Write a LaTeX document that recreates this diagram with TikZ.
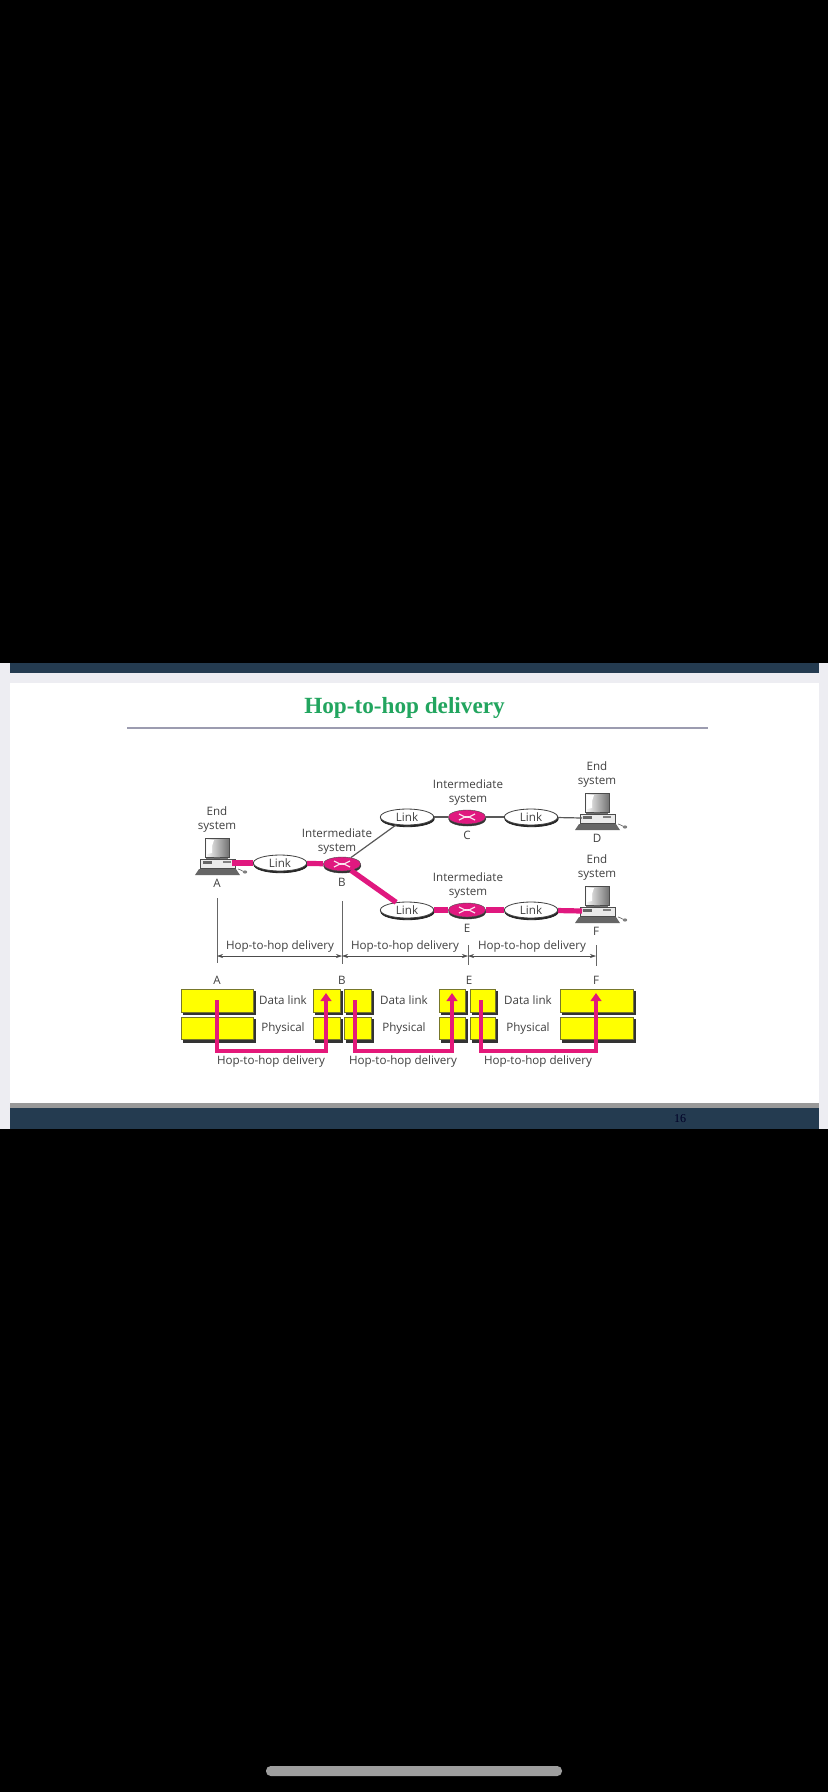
\documentclass[tikz,border=0pt]{standalone}
\usepackage{fontspec}
\setmainfont{Open Sans}
\newfontfamily\titlefont{Liberation Serif}
\usetikzlibrary{shapes.geometric,shadows,arrows.meta,calc}
\definecolor{bandblue}{HTML}{243B50}
\definecolor{slidegray}{HTML}{EDEDF2}
\definecolor{rulegray}{HTML}{9C9CB0}
\definecolor{titlegreen}{HTML}{22A55F}
\definecolor{hotpink}{HTML}{E0187F}
\definecolor{routepink}{HTML}{E4197A}
\definecolor{txt}{HTML}{404040}
\definecolor{boxyellow}{HTML}{FFFF00}
\definecolor{boxedge}{HTML}{77772A}
\tikzset{
  lbl/.style={font=\fontsize{8.7}{10.5}\selectfont,text=txt,inner sep=0pt,align=center},
  linkell/.style={ellipse,draw=black!75,line width=.6pt,fill=white,minimum width=40pt,minimum height=12pt,inner sep=0pt,
    font=\fontsize{8.7}{10.5}\selectfont,text=txt,copy shadow={shadow xshift=.4pt,shadow yshift=-1.3pt,fill=black!85,draw=black!85}},
  routerell/.style={ellipse,draw=black!70,line width=.3pt,fill=hotpink,minimum width=28pt,minimum height=10.5pt,inner sep=0pt,
    copy shadow={shadow xshift=.2pt,shadow yshift=-1.5pt,fill=black!80,draw=black!80}},
  thinlink/.style={draw=black!65,line width=.9pt},
  thicklink/.style={draw=hotpink,line width=3.9pt},
  ybox/.style={rectangle,draw=boxedge,line width=.6pt,fill=boxyellow,inner sep=0pt,anchor=north west,
    copy shadow={shadow xshift=1.6pt,shadow yshift=-1.6pt,fill=black!80,draw=black!80}},
  route/.style={draw=routepink,line width=2.5pt,line join=miter},
  routearrow/.style={route,-{Triangle[length=6pt,width=8pt]}},
  vline/.style={draw=black!60,line width=.7pt},
  dim/.style={draw=black!70,line width=.45pt,{Stealth[length=4.5pt,width=3pt]}-{Stealth[length=4.5pt,width=3pt]}},
  pics/computer/.style={code={
    \fill[black!55] (-11,-5) rectangle (11,-4);
    \draw[black!70,line width=.4pt,left color=white,right color=black!55] (-12,-25) rectangle (12,-6);
    \fill[white] (-10,-23) -- (-3,-23) -- (-5,-17) -- (-5,-10) -- (-10,-9) -- cycle;
    \fill[black!60] (-3,-6) rectangle (3,-4);
    \draw[black!70,line width=.4pt,fill=black!8] (-17,-4) rectangle (18,5);
    \fill[black!60] (-14,-2) rectangle (-5,1);
    \fill[black!50] (6,-2) rectangle (14,0);
    \fill[black!60] (-18,6) -- (19,6) -- (23,12) -- (-22,12) -- cycle;
    \draw[black!60,line width=.5pt] (21,6) .. controls (25,7) and (26,9) .. (28,9);
    \fill[black!50] (28,9) ellipse (2.2 and 1.6);
  }}
}
\newcommand{\routermark}[1]{%
  \draw[white,line width=.9pt,opacity=.85] ($(#1)+(-8,-3)$) -- ($(#1)+(-2,0)$) -- ($(#1)+(-8,3)$);
  \draw[white,line width=.9pt,opacity=.85] ($(#1)+(8,-3)$) -- ($(#1)+(2,0)$) -- ($(#1)+(8,3)$);
  \draw[white,line width=.9pt,opacity=.85] ($(#1)+(-2,0)$) -- ($(#1)+(2,0)$);
}
\begin{document}
\begin{tikzpicture}[x=0.75pt,y=-0.75pt]
\useasboundingbox (0,0) rectangle (828,1792);
\fill[black] (0,0) rectangle (828,1792);
% slide
\fill[slidegray] (0,663) rectangle (828,1129);
\fill[bandblue] (10,663) rectangle (819,673);
\fill[white] (10,683) rectangle (819,1103);
\fill[black!40] (10,1103) rectangle (819,1108);
\fill[bandblue] (10,1108) rectangle (819,1129);
\draw[rulegray,line width=1.1pt] (127,728) -- (708,728);
\node[font=\fontsize{17.4}{20}\selectfont\titlefont\bfseries,text=titlegreen,inner sep=0pt] (title) at (404.5,707.5) {Hop-to-hop delivery};
\node[font=\fontsize{9}{11}\selectfont\titlefont,text=black!85!blue,inner sep=0pt] (pageno) at (680,1119) {16};
% home indicator
\fill[black!38,rounded corners=3.5pt] (266,1766) rectangle (562,1776);

% computers
\pic at (217,863) {computer};
\pic at (597,818) {computer};
\pic at (597,911) {computer};
\coordinate (compA) at (232,863);
\coordinate (compD) at (582,818);
\coordinate (compF) at (582,911);

% network nodes
\node[linkell] (l1) at (280,863) {Link};
\node[routerell] (rB) at (342,864) {};
\node[linkell] (l2) at (407,817) {Link};
\node[routerell] (rC) at (467,817) {};
\node[linkell] (l3) at (531,817) {Link};
\node[linkell] (l4) at (407,910) {Link};
\node[routerell] (rE) at (467,910) {};
\node[linkell] (l5) at (531,910) {Link};
\routermark{rB}\routermark{rC}\routermark{rE}

% connectors
\draw[thinlink] (rB) -- (l2);
\draw[thinlink] (l2) -- (rC);
\draw[thinlink] (rC) -- (l3);
\draw[thinlink] (l3) -- (compD);
\draw[thicklink] (compA) -- (l1);
\draw[thicklink] (l1) -- (rB);
\draw[thicklink] (rB) -- (l4);
\draw[thicklink] (l4) -- (rE);
\draw[thicklink] (rE) -- (l5);
\draw[thicklink] (l5) -- (compF);

% labels, upper part
\node[lbl] (esA) at (217,819.5) {End\\system};
\node[lbl] (isB) at (337,841) {Intermediate\\system};
\node[lbl] (isC) at (468,792) {Intermediate\\system};
\node[lbl] (esD) at (597,774) {End\\system};
\node[lbl] (isE) at (468,885) {Intermediate\\system};
\node[lbl] (esF) at (597,867) {End\\system};
\node[lbl] (nA) at (217,883) {A};
\node[lbl] (nB) at (342,882) {B};
\node[lbl] (nC) at (467,835) {C};
\node[lbl] (nD) at (597,838) {D};
\node[lbl] (nE) at (467,928) {E};
\node[lbl] (nF) at (596,931) {F};

% hop dimension lines
\coordinate (vAt) at (217,898); \coordinate (vAb) at (217,963);
\coordinate (vBt) at (342,901); \coordinate (vBb) at (342,964);
\coordinate (vEt) at (468,945); \coordinate (vEb) at (468,965);
\coordinate (vFt) at (596,945); \coordinate (vFb) at (596,966);
\draw[vline] (vAt) -- (vAb);
\draw[vline] (vBt) -- (vBb);
\draw[vline] (vEt) -- (vEb);
\draw[vline] (vFt) -- (vFb);
\coordinate (dA) at (217,956); \coordinate (dB) at (342,956);
\coordinate (dE) at (468,956); \coordinate (dF) at (596,956);
\draw[dim] (dA) -- (dB);
\draw[dim] (dB) -- (dE);
\draw[dim] (dE) -- (dF);
\node[lbl] (h1) at (280,946) {Hop-to-hop delivery};
\node[lbl] (h2) at (405,946) {Hop-to-hop delivery};
\node[lbl] (h3) at (532,946) {Hop-to-hop delivery};

% layer letters
\node[lbl] (bA) at (217,980) {A};
\node[lbl] (bB) at (342,980) {B};
\node[lbl] (bE) at (469,980) {E};
\node[lbl] (bF) at (596,980) {F};

% yellow boxes
\foreach \nm/\x/\w in {A/181/54,Ba/313/20,Bb/344/20,Ea/439/19.5,Eb/470/19,F/560/54.5}{
  \node[ybox,minimum width=\w pt,minimum height=17.2pt] (d\nm) at (\x,989) {};
  \node[ybox,minimum width=\w pt,minimum height=16.8pt] (p\nm) at (\x,1017) {};
}
\node[lbl] (dl1) at (283,1000) {Data link};
\node[lbl] (ph1) at (283,1028) {Physical};
\node[lbl] (dl2) at (404,1000) {Data link};
\node[lbl] (ph2) at (404,1028) {Physical};
\node[lbl] (dl3) at (528,1000) {Data link};
\node[lbl] (ph3) at (528,1028) {Physical};

% delivery routes
\coordinate (bot) at (0,1051);
\coordinate (s1) at (217,1000); \coordinate (t1) at (326,993);
\coordinate (s2) at (355,1000); \coordinate (t2) at (452,993);
\coordinate (s3) at (481,1000); \coordinate (t3) at (596,993);
\draw[routearrow] (s1) -- (s1 |- bot) -- (t1 |- bot) -- (t1);
\draw[routearrow] (s2) -- (s2 |- bot) -- (t2 |- bot) -- (t2);
\draw[routearrow] (s3) -- (s3 |- bot) -- (t3 |- bot) -- (t3);
\node[lbl] (r1) at (271,1061) {Hop-to-hop delivery};
\node[lbl] (r2) at (403,1061) {Hop-to-hop delivery};
\node[lbl] (r3) at (538,1061) {Hop-to-hop delivery};
\end{tikzpicture}
\end{document}
